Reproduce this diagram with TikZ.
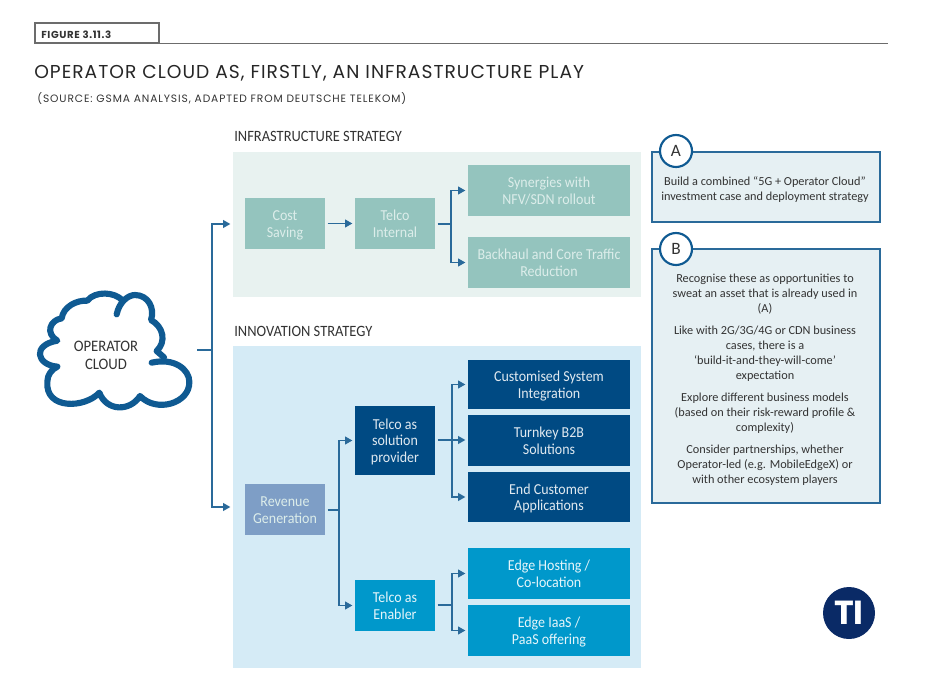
\documentclass[tikz,border=0pt]{standalone}
\usepackage{fontspec}
\setmainfont{Carlito}
\newfontfamily\headfont{Poppins}
\newfontfamily\titlefont{Poppins}[LetterSpace=5.4]
\newfontfamily\sourcefont{Poppins}[LetterSpace=8.4]
\newfontfamily\figfont{Poppins}[LetterSpace=6]
\newfontfamily\narrowfont{Carlito}[FakeStretch=0.92]
\usetikzlibrary{arrows.meta}
\definecolor{linec}{HTML}{2A6A9A}
\definecolor{cloudc}{HTML}{0F5A92}
\definecolor{tealbox}{HTML}{94C4BE}
\definecolor{tealtxt}{HTML}{DCEDEA}
\definecolor{tealpanel}{HTML}{E8F2F0}
\definecolor{bluepanel}{HTML}{D5EBF6}
\definecolor{darkbox}{HTML}{004A83}
\definecolor{midbox}{HTML}{0098CB}
\definecolor{revbox}{HTML}{7E9EC6}
\definecolor{notefill}{HTML}{E6F0F3}
\definecolor{logoc}{HTML}{0A2A66}
\definecolor{headc}{HTML}{333333}
\newcommand{\fs}[2]{\fontsize{#1pt}{#2pt}\selectfont}
\tikzset{
  x=0.75pt,y=-0.75pt,
  box/.style={inner sep=0,outer sep=0,align=center,font=\narrowfont\fs{11.4}{12.7},text=white},
  conn/.style={draw=linec,line width=0.9pt},
  arr/.style={conn,-{Triangle[length=5.5pt,width=6pt]},shorten >=2pt},
  head/.style={anchor=west,inner sep=0,text=headc,font=\narrowfont\fs{11.8}{14}},
  note/.style={draw=linec,line width=0.8pt,fill=notefill},
  badge/.style={circle,draw=cloudc,line width=1.6pt,fill=white,inner sep=0,minimum size=24pt,text=headc,font=\fs{13}{15}},
  notetext/.style={align=center,inner sep=0,text=headc,font=\fs{9.2}{11.2}},
}
\newcommand{\bx}[8]{% name, x1,y1,x2,y2, fill, textcolor, text
  \node[box,fill=#6,text=#7,minimum width={(#4-#2)*0.75pt},minimum height={(#5-#3)*0.75pt}] (#1) at ({(#2+#4)/2},{(#3+#5)/2}) {\rule{0pt}{10.7pt}#8\rule[-2.5pt]{0pt}{2.5pt}};}
\begin{document}
\begin{tikzpicture}
\useasboundingbox (0,0) rectangle (943,689);
% header
\node[draw=gray!85!black,line width=1pt,minimum width=93pt,minimum height=15pt,inner sep=0,outer sep=0] (figbox) at (97,33) {};
\node[anchor=west,inner sep=0,text=headc,font=\figfont\bfseries\fs{7.6}{9}] (figtxt) at (41,35) {FIGURE 3.11.3};
\coordinate (ruleL) at (35,43.5);
\coordinate (ruleR) at (888,43.5);
\draw[gray!85!black,line width=1pt] (ruleL) -- (ruleR);
\node[anchor=west,inner sep=0,text=black!85,font=\titlefont\fs{14}{15}] (title) at (34,73.5) {OPERATOR CLOUD AS, FIRSTLY, AN INFRASTRUCTURE PLAY};
\node[anchor=west,inner sep=0,text=headc,font=\sourcefont\fs{8}{9}] (source) at (37,99) {(SOURCE: GSMA ANALYSIS, ADAPTED FROM DEUTSCHE TELEKOM)};
% panels
\fill[tealpanel] (233,152) rectangle (641,297);
\fill[bluepanel] (233,346) rectangle (641,668);
\node[head] (h1) at (234,136) {INFRASTRUCTURE STRATEGY};
\node[head] (h2) at (234,331) {INNOVATION STRATEGY};
\coordinate (panelA) at (233,224);
\coordinate (panelB) at (233,507);
% boxes
\bx{cost}{245}{198}{325}{249}{tealbox}{tealtxt}{Cost\\Saving}
\bx{internal}{355}{198}{435}{249}{tealbox}{tealtxt}{Telco\\Internal}
\bx{syn}{468}{165}{630}{216}{tealbox}{tealtxt}{Synergies with\\NFV/SDN rollout}
\bx{back}{468}{237}{630}{288}{tealbox}{tealtxt}{Backhaul and Core Traffic\\Reduction}
\bx{rev}{245}{484}{325}{535}{revbox}{tealtxt}{Revenue\\Generation}
\bx{sol}{355}{406}{435}{475}{darkbox}{white!88!darkbox}{Telco as\\solution\\provider}
\bx{ena}{355}{580}{435}{631}{midbox}{white!90!midbox}{Telco as\\Enabler}
\bx{cust}{468}{360}{630}{409}{darkbox}{white!88!darkbox}{Customised System\\Integration}
\bx{turn}{468}{415}{630}{466}{darkbox}{white!88!darkbox}{Turnkey B2B\\Solutions}
\bx{endc}{468}{472}{630}{522}{darkbox}{white!88!darkbox}{End Customer\\Applications}
\bx{host}{468}{548}{630}{599}{midbox}{white!90!midbox}{Edge Hosting /\\Co-location}
\bx{iaas}{468}{605}{630}{656}{midbox}{white!90!midbox}{Edge IaaS /\\PaaS offering}
% cloud
\begin{scope}[shift={(0,270)},x=0.25pt,y=-0.25pt]
\draw[cloudc,line width=4.6pt,line cap=round,line join=round]
 (350,133) .. controls (358,95) and (385,75) .. (405,75)
 .. controls (445,75) and (465,115) .. (453,150)
 .. controls (490,170) and (500,215) .. (470,243) -- (492,262);
\draw[cloudc,line width=4.6pt,line cap=round,line join=round]
 (455,278) .. controls (525,262) and (568,300) .. (568,335)
 .. controls (570,400) and (470,430) .. (420,378)
 .. controls (390,425) and (320,425) .. (298,368)
 .. controls (255,415) and (135,420) .. (142,335)
 .. controls (142,315) and (155,298) .. (172,290)
 .. controls (110,285) and (95,225) .. (172,212)
 .. controls (135,190) and (150,150) .. (185,145)
 .. controls (190,110) and (230,90) .. (262,92)
 .. controls (285,62) and (345,65) .. (368,92);
\end{scope}
\node[inner sep=0,outer sep=0,minimum width=136.5pt,align=center,text=headc,font=\narrowfont\fs{12}{13.7}] (cloud) at (106,355) {OPERATOR\\CLOUD};
% junctions
\coordinate (jr) at (212,350);
\coordinate (j1) at (451,224);
\coordinate (j2) at (339,510);
\coordinate (j3) at (452,440);
\coordinate (j4) at (452,605);
% connectors
\draw[conn] (cloud.east |- jr) -- (jr);
\draw[arr] (jr) |- (panelA);
\draw[arr] (jr) |- (panelB);
\draw[arr,shorten <=2pt] (cost) -- (internal);
\draw[conn,shorten <=2pt] (internal.east |- j1) -- (j1);
\draw[arr] (j1) |- (syn.west);
\draw[arr] (j1) |- (back.west);
\draw[conn,shorten <=2pt] (rev.east |- j2) -- (j2);
\draw[arr] (j2) |- (sol.west);
\draw[arr] (j2) |- (ena.west);
\draw[conn,shorten <=2pt] (sol.east |- j3) -- (j3);
\draw[arr] (j3) |- (cust.west);
\draw[arr] (j3) -- (turn.west |- j3);
\draw[arr] (j3) |- (endc.west);
\draw[conn,shorten <=2pt] (ena.east |- j4) -- (j4);
\draw[arr] (j4) |- (host.west);
\draw[arr] (j4) |- (iaas.west);
% notes
\draw[note] (652,152) rectangle (880,222);
\draw[note] (652,249) rectangle (880,503);
\node[badge] (a) at (676,151) {A};
\node[badge] (b) at (676,249) {B};
\node[notetext] (atext) at (765,189.5) {Build a combined “5G + Operator Cloud”\\investment case and deployment strategy};
\node[notetext] (btext) at (765,379.5) {Recognise these as opportunities to\\sweat an asset that is already used in\\(A)\\[5.5pt]
Like with 2G/3G/4G or CDN business\\cases, there is a\\‘build-it-and-they-will-come’\\expectation\\[5.5pt]
Explore different business models\\(based on their risk-reward profile \&\\complexity)\\[5.5pt]
Consider partnerships, whether\\Operator-led (e.g. MobileEdgeX) or\\with other ecosystem players};
% logo
\node[circle,fill=logoc,minimum size=39pt,inner sep=0,text=white,font=\headfont\bfseries\fs{25}{28}] (logo) at (849,613) {TI};
\end{tikzpicture}
\end{document}
